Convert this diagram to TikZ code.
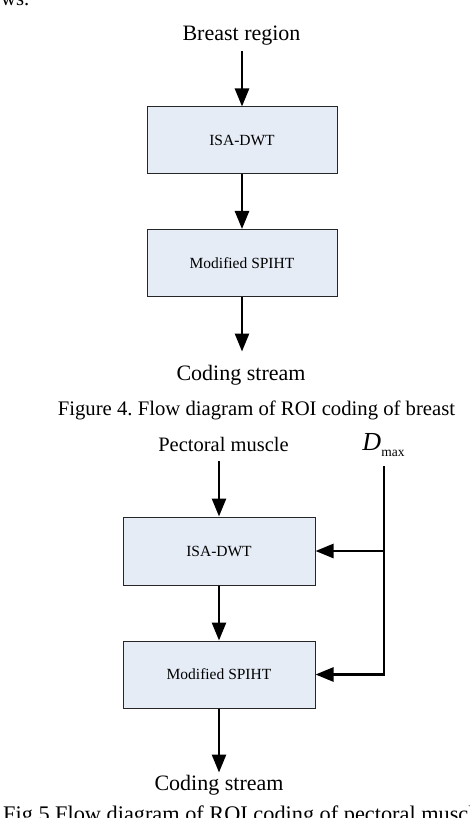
\documentclass[tikz,border=0pt]{standalone}
\usepackage{fontspec}
\setmainfont{Liberation Serif}
\usepackage{tikz}
\usetikzlibrary{arrows.meta,positioning,calc}
\usepackage{xcolor}
\definecolor{boxFill}{RGB}{229,236,246}
\frenchspacing
\tikzset{
    every node/.append style={align=center},
    box/.style={rectangle,draw=black!85,line width=1pt,fill=boxFill,
        minimum width=190pt,minimum height=67pt,font=\fontsize{15.5}{17}\selectfont},
    lbl/.style={font=\fontsize{22}{24}\selectfont,inner sep=2pt,anchor=base},
    capt/.style={font=\fontsize{20.7}{23}\selectfont,inner sep=0pt},
    arr/.style={-{Triangle[length=18pt,width=14pt]},line width=2.6pt},
}
\begin{document}
\begin{tikzpicture}[x=1pt,y=-1pt]
    \useasboundingbox (0,0) rectangle (470,818);
    \clip (0,0) rectangle (470,818);
    \node[capt,anchor=base west] (prevtext) at (1,6) {ws.};

    % Figure 4
    \node[lbl] (breast) at (241.5,41) {Breast region};
    \node[box] (dwt1) at (242,140.5) {ISA-DWT};
    \node[box] (spiht1) at (242,263) {Modified SPIHT};
    \node[lbl] (out1) at (241,380) {Coding stream};
    \node[capt,anchor=base] (fig4) at (256.5,415) {Figure 4. Flow diagram of ROI coding of breast};

    \draw[arr,shorten <=3pt] (breast.south -| dwt1) -- (dwt1.north);
    \draw[arr] (dwt1.south) -- (spiht1.north);
    \draw[arr,shorten >=11pt] (spiht1.south) -- (spiht1.south |- out1.north);

    % Figure 5
    \node[lbl,font=\fontsize{20.5}{23}\selectfont] (pect) at (223.5,451) {Pectoral muscle};
    \node[inner sep=0pt,anchor=base] (dmax) at (383.5,450)
        {\fontsize{26}{28}\selectfont\itshape D\upshape\raisebox{-6pt}{\fontsize{13.5}{14}\selectfont max}};
    \node[box,minimum width=192pt,minimum height=68pt] (dwt2) at (219,551) {ISA-DWT};
    \node[box,minimum width=192pt] (spiht2) at (219,674.5) {Modified SPIHT};
    \node[lbl] (out2) at (219,790) {Coding stream};
    \node[capt,font=\fontsize{22.3}{24}\selectfont,anchor=base west] (fig5) at (3,821)
        {Fig.5 Flow diagram of ROI coding of pectoral muscle};

    \coordinate (dtop) at (384,466);
    \draw[arr,shorten <=8pt] (pect.south -| dwt2) -- (dwt2.north);
    \draw[arr] (dwt2.south) -- (spiht2.north);
    \draw[arr] (spiht2.south) -- (spiht2.south |- out2.north);
    \draw[arr] (dtop) |- (spiht2.east);
    \draw[arr] (dtop |- dwt2.east) -- (dwt2.east);
\end{tikzpicture}
\end{document}
